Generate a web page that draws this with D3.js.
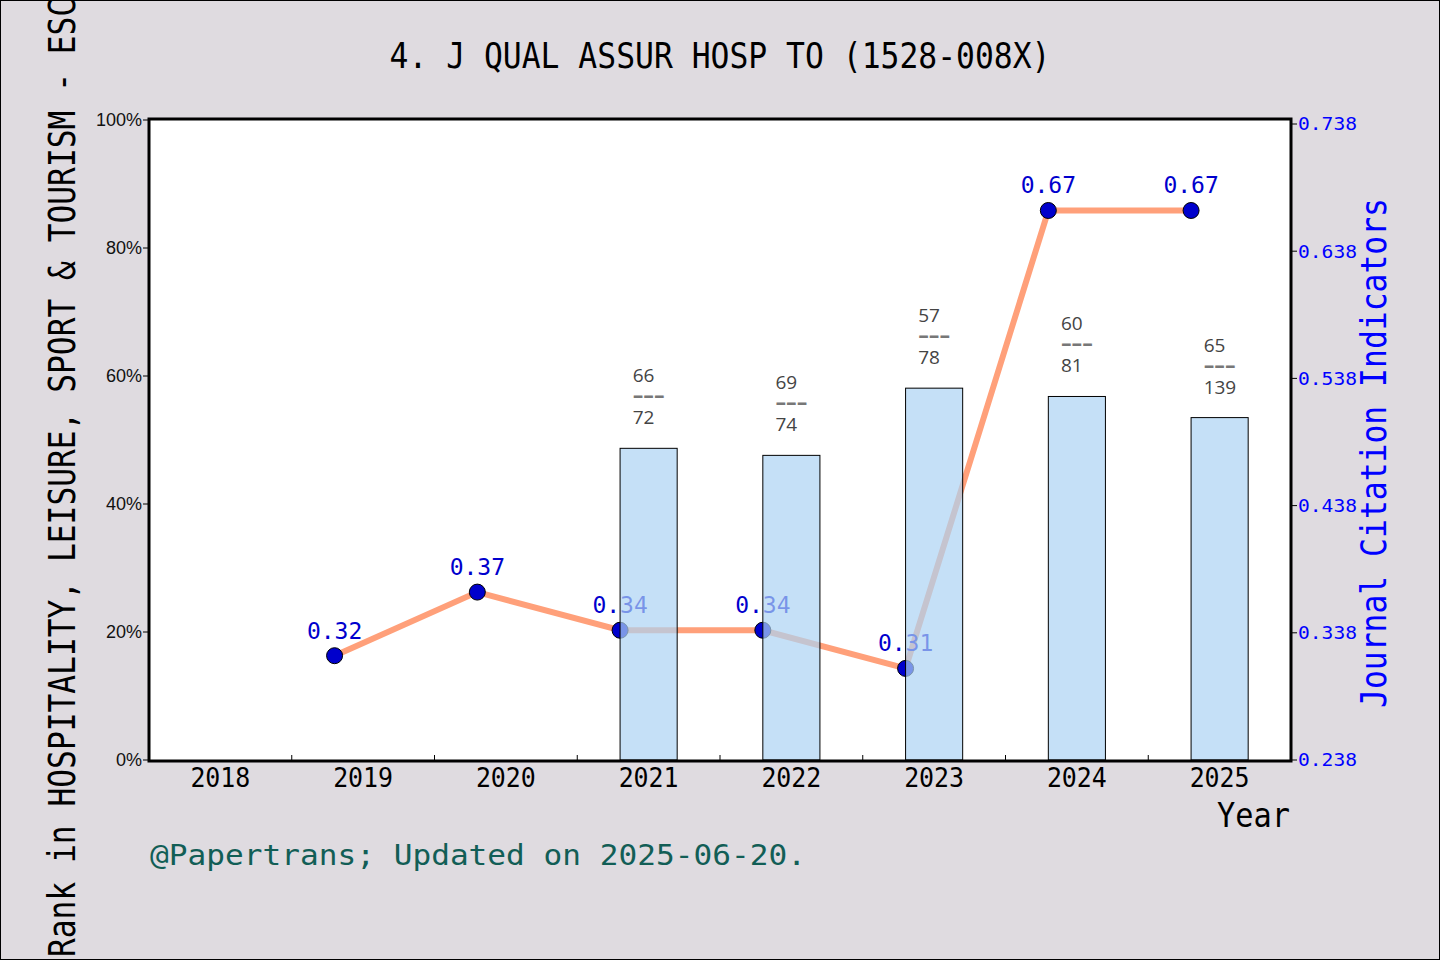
<!DOCTYPE html>
<html>
<head>
<meta charset="utf-8">
<script src="https://cdn.jsdelivr.net/npm/d3@7"></script>
<style>
    body { margin: 0; background: #DFDBE0; }
    svg { display: block; }
</style>
</head>
<body>
<svg id="chart" width="1440" height="960"></svg>
<script>
// data
var years = ["2018", "2019", "2020", "2021", "2022", "2023", "2024", "2025"];
var jciYears = ["2019", "2020", "2021", "2022", "2023", "2024", "2025"];
var jciValues = [0.32, 0.37, 0.34, 0.34, 0.31, 0.67, 0.67];
var rankYears = ["2021", "2022", "2023", "2024", "2025"];
var rankPct = [48.7, 47.6, 58.1, 56.8, 53.5];
var rankPos = [66, 69, 57, 60, 65];
var rankTotal = [72, 74, 78, 81, 139];
var leftTicks = [0, 20, 40, 60, 80, 100];
var rightTicks = [0.238, 0.338, 0.438, 0.538, 0.638, 0.738];

var mono = "'DejaVu Sans Mono', monospace";
var svg = d3.select("#chart");

// background + outer border
svg.append("rect").attr("x", 0.5).attr("y", 0.5).attr("width", 1439).attr("height", 959)
    .attr("fill", "#DFDBE0").attr("stroke", "black").attr("stroke-width", 1);

var x = d3.scaleBand().domain(years).range([149, 1291]);
var yL = d3.scaleLinear().domain([0, 100]).range([760, 120]);
var yR = d3.scaleLinear().domain([0.238, 0.738]).range([760, 124]);
var cx = d => x(d) + x.bandwidth() / 2;
var bw = x.bandwidth() * 0.4;
// the line sits on the left edge of each bar
var lx = d => cx(d) - bw / 2;

// plot area
svg.append("rect").attr("x", 149).attr("y", 119).attr("width", 1142).attr("height", 642)
    .attr("fill", "white");

// line of JCI values
var pts = jciYears.map((d, i) => ({year: d, v: jciValues[i]}));
svg.append("path").datum(pts)
    .attr("fill", "none")
    .attr("stroke", "#FFA07A")
    .attr("stroke-width", 6)
    .attr("d", d3.line().x(d => lx(d.year)).y(d => yR(d.v)));

svg.selectAll(".dot").data(pts).join("circle")
    .attr("class", "dot")
    .attr("cx", d => lx(d.year))
    .attr("cy", d => yR(d.v))
    .attr("r", 8)
    .attr("fill", "#0000CC")
    .attr("stroke", "black")
    .attr("stroke-width", 1);

svg.selectAll(".vlab").data(pts).join("text")
    .attr("class", "vlab")
    .attr("x", d => lx(d.year))
    .attr("y", d => yR(d.v) - 17)
    .attr("text-anchor", "middle")
    .style("font-family", mono)
    .style("font-size", "23px")
    .attr("fill", "#0000CD")
    .text(d => d.v.toFixed(2));

// bars go on top, semi transparent
var bars = rankYears.map((d, i) => ({year: d, p: rankPct[i], r: rankPos[i], n: rankTotal[i]}));
svg.selectAll(".bar").data(bars).join("rect")
    .attr("class", "bar")
    .attr("x", d => cx(d.year) - bw / 2)
    .attr("y", d => yL(d.p))
    .attr("width", bw)
    .attr("height", d => yL(0) - yL(d.p))
    .attr("fill", "rgb(172,211,244)")
    .attr("fill-opacity", 0.7)
    .attr("stroke", "black")
    .attr("stroke-width", 1);

// rank / total labels
var lab = svg.selectAll(".blab").data(bars).join("g").attr("class", "blab")
    .style("font-family", "'Open Sans', sans-serif")
    .style("font-size", "19px");
lab.append("text")
    .attr("x", d => cx(d.year) - 16).attr("y", d => yL(d.p) - 66)
    .attr("fill", "#444").text(d => d.r);
lab.append("text")
    .attr("x", d => cx(d.year) - 16).attr("y", d => yL(d.p) - 46)
    .attr("fill", "#777")
    .style("font-weight", "bold")
    .attr("textLength", 32).attr("lengthAdjust", "spacingAndGlyphs")
    .text("---");
lab.append("text")
    .attr("x", d => cx(d.year) - 16).attr("y", d => yL(d.p) - 24)
    .attr("fill", "#444").text(d => d.n);

// frame
svg.append("rect").attr("x", 149).attr("y", 119).attr("width", 1142).attr("height", 642)
    .attr("fill", "none").attr("stroke", "black").attr("stroke-width", 3);

// x ticks (inside, at band edges)
svg.selectAll(".xt").data(years.slice(1)).join("line")
    .attr("class", "xt")
    .attr("x1", d => x(d)).attr("x2", d => x(d))
    .attr("y1", 761).attr("y2", 755)
    .attr("stroke", "black").attr("stroke-width", 1);

svg.selectAll(".xl").data(years).join("text")
    .attr("class", "xl")
    .attr("x", d => cx(d)).attr("y", 787)
    .attr("text-anchor", "middle")
    .style("font-family", mono).style("font-size", "27px")
    .attr("textLength", 60).attr("lengthAdjust", "spacingAndGlyphs")
    .text(d => d);

// left axis
svg.selectAll(".lt").data(leftTicks).join("line")
    .attr("class", "lt")
    .attr("x1", 143).attr("x2", 149)
    .attr("y1", d => yL(d)).attr("y2", d => yL(d))
    .attr("stroke", "black");
svg.selectAll(".ll").data(leftTicks).join("text")
    .attr("class", "ll")
    .attr("x", 142).attr("y", d => yL(d)).attr("dy", "0.35em")
    .attr("text-anchor", "end")
    .style("font-family", "'Liberation Sans', Arial, sans-serif").style("font-size", "18px")
    .attr("fill", "#111")
    .text(d => d + "%");

// right axis
svg.selectAll(".rt").data(rightTicks).join("line")
    .attr("class", "rt")
    .attr("x1", 1291).attr("x2", 1297)
    .attr("y1", d => yR(d)).attr("y2", d => yR(d))
    .attr("stroke", "black");
svg.selectAll(".rl").data(rightTicks).join("text")
    .attr("class", "rl")
    .attr("x", 1298).attr("y", d => yR(d)).attr("dy", "0.36em")
    .style("font-family", mono).style("font-size", "18px")
    .attr("textLength", 59).attr("lengthAdjust", "spacingAndGlyphs")
    .attr("fill", "#0000FF")
    .text(d => d.toFixed(3));

// titles
svg.append("text")
    .attr("x", 720).attr("y", 68).attr("text-anchor", "middle")
    .style("font-family", mono).style("font-size", "35px")
    .attr("textLength", 661).attr("lengthAdjust", "spacingAndGlyphs")
    .text("4. J QUAL ASSUR HOSP TO (1528-008X)");

svg.append("text")
    .attr("transform", "translate(75,957) rotate(-90)")
    .style("font-family", mono).style("font-size", "37px")
    .attr("textLength", 978).attr("lengthAdjust", "spacingAndGlyphs")
    .text("Rank in HOSPITALITY, LEISURE, SPORT & TOURISM - ESCI");

svg.append("text")
    .attr("transform", "translate(1386,453) rotate(-90)")
    .attr("text-anchor", "middle")
    .style("font-family", mono).style("font-size", "35px")
    .attr("textLength", 510).attr("lengthAdjust", "spacingAndGlyphs")
    .attr("fill", "#0000FF")
    .text("Journal Citation Indicators");

svg.append("text")
    .attr("x", 1290).attr("y", 827).attr("text-anchor", "end")
    .style("font-family", mono).style("font-size", "33px")
    .attr("textLength", 73).attr("lengthAdjust", "spacingAndGlyphs")
    .text("Year");

svg.append("text")
    .attr("x", 150).attr("y", 865)
    .style("font-family", mono).style("font-size", "29px")
    .attr("textLength", 656).attr("lengthAdjust", "spacingAndGlyphs")
    .attr("fill", "#125E56")
    .text("@Papertrans; Updated on 2025-06-20.");
</script>
</body>
</html>
